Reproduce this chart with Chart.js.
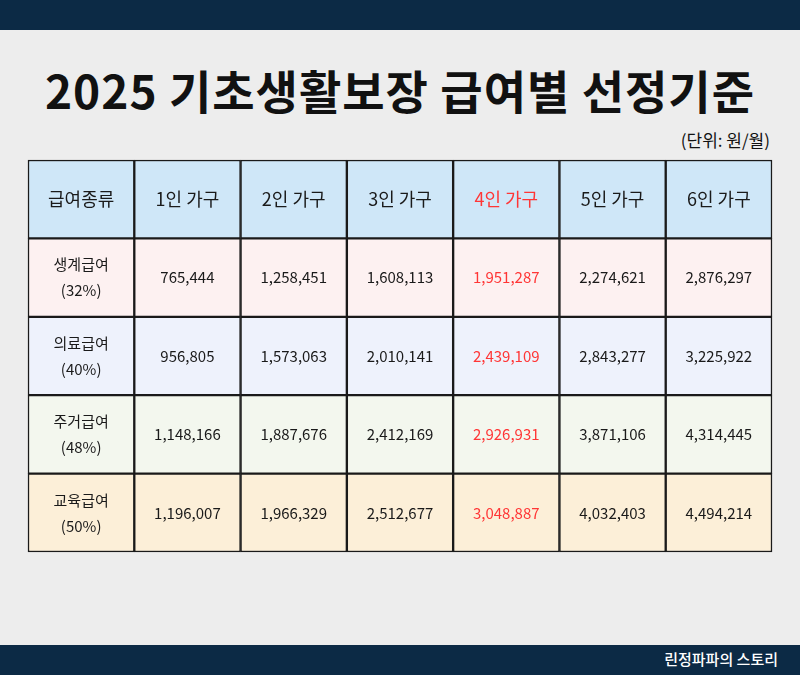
<!DOCTYPE html>
<html><head><meta charset="utf-8">
<script src="https://cdn.jsdelivr.net/npm/chart.js@4/dist/chart.umd.min.js"></script>
<style>
body{margin:0;width:800px;height:675px;background:#ededed;position:relative;overflow:hidden;font-family:"Noto Sans CJK KR","Noto Sans",sans-serif}
.bar{position:absolute;left:0;width:800px;background:#0c2a45}
#title{position:absolute;left:0;width:800px;top:56px;text-align:center;font-size:46px;font-weight:700;color:#111;letter-spacing:1px}
#unit{position:absolute;right:30px;top:127px;font-size:17px;color:#111}
#foot{position:absolute;right:22px;top:648px;font-size:15px;color:#fff;font-weight:500}
#wrap{position:absolute;left:26px;top:158px;width:748px;height:396px}
</style></head><body>
<div class="bar" style="top:0;height:30px"></div>
<div class="bar" style="top:645px;height:30px"></div>
<div id="title">2025 기초생활보장 급여별 선정기준</div>
<div id="unit">(단위: 원/월)</div>
<div id="foot">린정파파의 스토리</div>
<div id="wrap"><canvas id="c"></canvas></div>
<script>
const headers = ["급여종류","1인 가구","2인 가구","3인 가구","4인 가구","5인 가구","6인 가구"];
const rowNames = ["생계급여\n(32%)","의료급여\n(40%)","주거급여\n(48%)","교육급여\n(50%)"];
const s1 = [765444,1258451,1608113,1951287,2274621,2876297];
const s2 = [956805,1573063,2010141,2439109,2843277,3225922];
const s3 = [1148166,1887676,2412169,2926931,3871106,4314445];
const s4 = [1196007,1966329,2512677,3048887,4032403,4494214];
const series = [s1,s2,s3,s4];
const rowColors = ["#cfe7f8","#fdf1f1","#eef2fc","#f3f7ee","#fcefd8"];
const rows = ["h","r1","r2","r3","r4"];

const datasets = headers.map((h,ci)=>({
  data: rows.map(()=>[ci,ci+1]),
  backgroundColor: rowColors,
  borderColor:"#1a1a1a", borderWidth:1.5, borderSkipped:false,
  categoryPercentage:1, barPercentage:1, clip:false, grouped:false
}));
function cellText(ri,ci){
  if(ri===0) return headers[ci];
  if(ci===0) return rowNames[ri-1];
  return series[ri-1][ci-1].toLocaleString('en-US');
}
const textPlugin={id:'t',afterDatasetsDraw(chart){
  const ctx=chart.ctx;ctx.save();ctx.textAlign='center';ctx.textBaseline='middle';
  chart.data.datasets.forEach((d,ci)=>{
    chart.getDatasetMeta(ci).data.forEach((el,ri)=>{
      const cx=(el.x+el.base)/2, cy=el.y;
      const t=cellText(ri,ci);
      ctx.fillStyle=(ci===4)?'#ff3636':'#1a1a1a';
      ctx.font=(ri===0?'18px':'15px')+' "Noto Sans CJK KR"';
      const lines=t.split('\n');
      lines.forEach((ln,k)=>ctx.fillText(ln,cx,cy+(k-(lines.length-1)/2)*26));
    });
  });ctx.restore();}};
new Chart(document.getElementById('c'),{type:'bar',
  data:{labels:rows,datasets},
  options:{indexAxis:'y',responsive:true,maintainAspectRatio:false,animation:false,
    layout:{padding:2},
    plugins:{legend:{display:false},tooltip:{enabled:false}},
    scales:{x:{type:'linear',min:0,max:7,display:false},
            y:{display:false,offset:true}}},
  plugins:[textPlugin]});
</script></body></html>
